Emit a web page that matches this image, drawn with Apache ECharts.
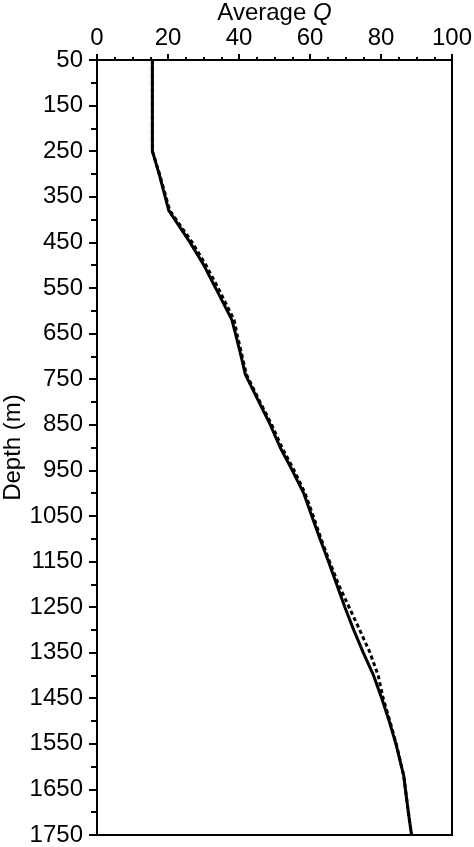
<!DOCTYPE html>
<html>
<head>
<meta charset="utf-8">
<script src="https://cdn.jsdelivr.net/npm/echarts@6/dist/echarts.min.js"></script>
<style>
html,body{margin:0;padding:0;background:#fff;}
#chart{width:474px;height:847px;}
</style>
</head>
<body>
<div id="chart"></div>
<script>
// Depth (m) sample points
var depths = [50, 250, 300, 350, 380, 450, 500, 550, 620, 650, 700, 740, 800, 850, 900, 950, 1000, 1050, 1100, 1150, 1200, 1250, 1300, 1350, 1400, 1450, 1500, 1550, 1620, 1700, 1750];
// Average Q, solid curve
var qSolid = [15.6, 15.6, 17.5, 19.2, 20.2, 26.2, 30.1, 33.4, 38.0, 39.0, 40.6, 41.8, 45.6, 48.8, 51.6, 55.0, 58.2, 60.5, 62.8, 65.2, 67.5, 69.8, 72.3, 75.0, 77.9, 80.2, 82.3, 84.2, 86.4, 87.7, 88.6];
// Average Q, dashed curve
var qDashed = [15.6, 15.6, 17.6, 19.4, 20.5, 26.8, 30.7, 34.1, 38.6, 39.4, 40.9, 42.1, 45.9, 49.2, 52.1, 55.5, 58.6, 60.9, 63.1, 65.5, 68.0, 71.0, 74.0, 76.9, 79.2, 80.6, 82.5, 84.3, 86.4, 87.7, 88.6];

var font = '"Liberation Sans", Arial, Helvetica, sans-serif';

function pairs(xs) {
  return xs.map(function (v, i) { return [v, depths[i]]; });
}

var chart = echarts.init(document.getElementById('chart'), null, {renderer: 'canvas'});
chart.setOption({
  backgroundColor: '#fff',
  animation: false,
  grid: {left: 97, right: 22, top: 60, bottom: 12, containLabel: false, outerBoundsMode: 'none',
         show: true, borderColor: '#000', borderWidth: 2, backgroundColor: 'transparent'},
  xAxis: {
    type: 'value', position: 'top', min: 0, max: 100, interval: 20,
    name: 'Average {i|Q}', nameLocation: 'middle', nameGap: 35, nameMoveOverlap: false,
    nameTextStyle: {fontFamily: font, fontSize: 24, color: '#000', rich: {i: {fontFamily: font, fontSize: 24, fontStyle: 'italic', color: '#000'}}},
    axisLine: {show: true, lineStyle: {color: '#000', width: 2}},
    axisTick: {show: true, inside: false, length: 6, lineStyle: {color: '#000', width: 2}},
    minorTick: {show: true, splitNumber: 4, length: 3, lineStyle: {color: '#000', width: 2}},
    axisLabel: {fontFamily: font, fontSize: 24, color: '#000', margin: 10, formatter: function (v) { return String(v); }},
    splitLine: {show: false}
  },
  yAxis: {
    type: 'value', inverse: true, min: 50, max: 1750, interval: 100,
    name: 'Depth (m)', nameLocation: 'middle', nameGap: 72, nameMoveOverlap: false,
    nameTextStyle: {fontFamily: font, fontSize: 24, color: '#000'},
    axisLine: {show: true, lineStyle: {color: '#000', width: 2}},
    axisTick: {show: true, inside: false, length: 8, lineStyle: {color: '#000', width: 2}},
    minorTick: {show: true, splitNumber: 2, length: 6, lineStyle: {color: '#000', width: 2}},
    axisLabel: {fontFamily: font, fontSize: 24, color: '#000', margin: 14, formatter: function (v) { return String(v); }},
    splitLine: {show: false}
  },
  series: [
    {
      type: 'line', data: pairs(qDashed), showSymbol: false, symbol: 'none',
      lineStyle: {color: '#000', width: 3, type: [4, 3]}, z: 2
    },
    {
      type: 'line', data: pairs(qSolid), showSymbol: false, symbol: 'none',
      lineStyle: {color: '#000', width: 3}, z: 3
    }
  ]
});
</script>
</body>
</html>
